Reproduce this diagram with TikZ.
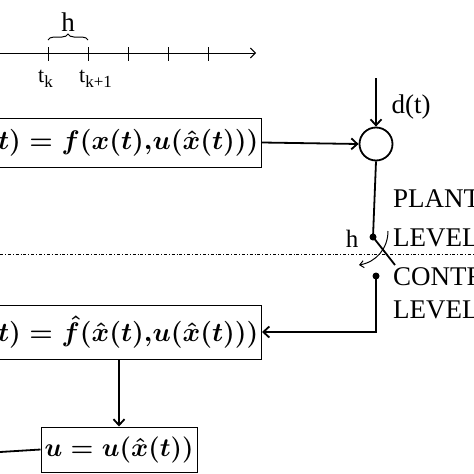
\documentclass[tikz,border=0pt]{standalone}
\usepackage{fontspec}
\setmainfont{Liberation Serif}
\usetikzlibrary{arrows.meta,decorations.pathreplacing}
\newcommand{\myeqbox}[1]{\scalebox{1.08}{$#1$}}
\begin{document}
\begin{tikzpicture}[x=1pt,y=-1pt,
  box/.style={draw,line width=1pt,inner xsep=3pt,inner ysep=0pt,minimum height=49pt,
    font=\fontsize{24.88}{26}\selectfont\boldmath},
  conn/.style={line width=1.8pt},
  arr/.style={conn,-{Straight Barb[length=6pt,width=11pt,line width=1.8pt]}},
  lbl/.style={font=\fontsize{27}{29}\selectfont,anchor=west,inner sep=0pt},
  tick/.style={line width=0.9pt},
  tlab/.style={font=\fontsize{22}{24}\selectfont,inner sep=0pt},
  dot/.style={circle,fill,inner sep=0pt,minimum size=7pt}]
\useasboundingbox (0,0) rectangle (474,474);
\clip (0,0) rectangle (474,474);
% timeline
\coordinate (tl0) at (0,53);
\coordinate (tl1) at (256,53);
\draw[tick,-{Straight Barb[length=5pt,width=10pt]}] (tl0) -- (tl1);
\foreach \x in {48,88,128,168,208} \draw[tick] (\x,47) -- (\x,61);
\draw[line width=1pt,decorate,decoration={brace,amplitude=6pt}] (48,40) -- (88,40);
\node[font=\fontsize{27}{29}\selectfont,inner sep=0pt] (hl) at (68,22) {h};
\node[tlab,anchor=west] (tk) at (38,79) {t\raisebox{-5pt}{\fontsize{17}{17}\selectfont k}};
\node[tlab,anchor=west] (tk1) at (79,79) {t\raisebox{-5pt}{\fontsize{17}{17}\selectfont k+1}};
% boxes
\node[box,anchor=east] (b1) at (262,142.5) {\myeqbox{\dot x(t) = f\bigl(x(t){,}u\bigl(\hat x(t)\bigr)\bigr)}};
\node[box,anchor=east,minimum height=54pt] (b2) at (262,332) {\myeqbox{\dot{\hat x}(t) = \hat f\bigl(\hat x(t){,}u\bigl(\hat x(t)\bigr)\bigr)}};
\node[box,minimum height=45pt,minimum width=156pt,inner xsep=1pt] (b3) at (119,449.5) {\scalebox{1.05}{$u = u(\hat x(t))$}};
% summing junction
\node[circle,draw,line width=1.8pt,minimum size=33pt,inner sep=0pt] (sum) at (376,144) {};
\coordinate (din) at (376,78);
\node[font=\fontsize{27}{29}\selectfont,inner sep=0pt] (dl) at (411,107) {d(t)};
\draw[arr] (din) -- (sum.north);
\draw[arr] (b1.east) -- (sum.west);
% switch
\node[dot] (s1) at (373,237) {};
\node[dot] (s2) at (376,276) {};
\coordinate (blade) at (395,265);
\draw[conn] (sum.south) -- (s1.center);
\draw[conn] (s1.center) -- (blade);
\coordinate (ca) at (388,231);
\coordinate (cb) at (359,265);
\draw[line width=1pt,-{Straight Barb[length=4pt,width=7pt]}] (ca) to[out=-90,in=10] (cb);
\node[font=\fontsize{25}{27}\selectfont,inner sep=0pt] (hs) at (352,239) {h};
% level divider
\coordinate (dv0) at (0,254);
\coordinate (dv1) at (474,254);
\draw[line width=0.8pt,dash dot] (dv0) -- (dv1);
\node[lbl] (p1) at (393,199) {PLANT};
\node[lbl] (p2) at (393,238) {LEVEL};
\node[lbl] (c1) at (393,277) {CONTROL};
\node[lbl] (c2) at (393,310) {LEVEL};
% controller connections
\draw[arr] (s2.center) |- (b2.east);
\draw[arr] (b3.north |- b2.south) -- (b3.north);
\coordinate (uin) at (0,452);
\draw[conn] (uin) -- (b3.west);
\end{tikzpicture}
\end{document}
